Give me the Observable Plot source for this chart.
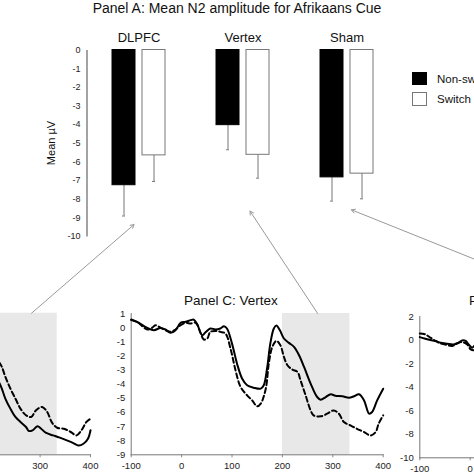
<!DOCTYPE html>
<html>
<head>
<meta charset="utf-8">
<script src="https://cdn.jsdelivr.net/npm/d3@7"></script>
<script src="https://cdn.jsdelivr.net/npm/@observablehq/plot@0.6"></script>
<style>
  html, body { margin: 0; padding: 0; background: #fff; }
  #fig { position: relative; width: 474px; height: 474px; overflow: hidden; background: #fff;
         font-family: 'Liberation Sans', Arial, Helvetica, sans-serif; color: #111; }
  #fig svg { overflow: visible; }
  .abs { position: absolute; white-space: nowrap; }
</style>
</head>
<body>
<div id="fig"></div>
<script>
// ---------- Panel A data ----------
const groups = ["DLPFC", "Vertex", "Sham"];
const conditions = ["Non-switch", "Switch"];
const nonSwitchMean = [-7.25, -4.03, -6.83];
const switchMean = [-5.65, -5.62, -6.63];
const nonSwitchSE = [1.65, 1.32, 1.27];
const switchSE = [1.40, 1.25, 1.35];
const yTicksA = [0, -1, -2, -3, -4, -5, -6, -7, -8, -9, -10];

// ---------- ERP waveforms (ms, µV) ----------
const analysisWindow = [{start: 200, end: 334}];
const xTicksERP = [-100, 0, 100, 200, 300, 400];
const yTicksBC = [1, 0, -1, -2, -3, -4, -5, -6, -7, -8, -9];
const yTicksD = [2, 0, -2, -4, -6, -8, -10];

const dlpfcNonSwitch = [[210,-3.4],[218,-3.85],[224,-4.32],[231,-5.03],[241,-5.74],[251,-6.33],[261,-6.68],[272,-7.04],[278,-7.32],[285,-7.27],[295,-6.99],[302,-7.16],[312,-7.46],[326,-7.63],[339,-7.79],[353,-7.98],[366,-8.17],[376,-8.34],[386,-8.22],[395,-7.87],[400,-7.27]];
const dlpfcSwitch = [[210,-2.0],[218,-2.43],[224,-2.78],[231,-3.49],[241,-4.32],[251,-5.03],[261,-5.74],[272,-6.21],[282,-6.33],[292,-5.86],[304,-5.62],[314,-5.97],[324,-6.75],[334,-7.09],[347,-7.16],[361,-7.39],[372,-7.63],[382,-7.27],[392,-6.68],[400,-6.45]];

const vertexNonSwitch = [[-100,0.53],[-88,0.4],[-72,0.05],[-55,-0.18],[-42,-0.02],[-32,-0.13],[-22,-0.37],[-12,-0.18],[-2,0.34],[8,0.41],[18,0.53],[24,0.57],[31,0.24],[41,-0.54],[47,-0.35],[57,-0.06],[67,-0.13],[77,-0.06],[84,0.1],[90,-0.06],[100,-1.13],[110,-2.55],[120,-3.6],[130,-4.08],[143,-4.25],[157,-4.32],[163,-4.08],[170,-2.78],[176,-1.13],[183,-0.06],[188,0.15],[195,-0.18],[203,-0.77],[213,-1.08],[223,-1.36],[233,-1.95],[243,-2.78],[256,-3.96],[269,-4.91],[276,-5.1],[286,-4.91],[296,-4.72],[305,-4.82],[319,-4.86],[332,-4.96],[342,-4.86],[352,-4.72],[362,-5.15],[372,-6.09],[378,-5.97],[388,-5.15],[400,-4.32]];
const vertexSwitch = [[-100,0.57],[-88,0.4],[-78,0.1],[-68,-0.13],[-58,0.0],[-52,0.17],[-42,0.0],[-32,-0.18],[-22,-0.3],[-12,-0.13],[-2,0.17],[8,0.34],[18,0.29],[28,0.34],[38,-0.42],[44,-0.84],[51,-0.77],[57,-0.3],[67,-0.23],[77,-0.3],[87,-0.42],[97,-1.48],[107,-3.02],[117,-4.2],[130,-4.79],[140,-5.15],[150,-5.57],[157,-5.38],[167,-4.32],[173,-2.55],[180,-1.36],[188,-0.94],[196,-1.25],[203,-2.07],[210,-2.66],[220,-2.97],[230,-3.14],[236,-3.73],[246,-4.79],[256,-5.86],[262,-6.21],[276,-6.28],[289,-6.09],[302,-5.86],[312,-6.09],[322,-6.68],[335,-6.92],[348,-7.16],[362,-7.39],[375,-7.63],[385,-7.39],[391,-6.8],[400,-6.21]];

const shamNonSwitch = [[-100,0.25],[-89,0.11],[-79,0.0],[-69,-0.08],[-59,-0.23],[-46,-0.31],[-33,-0.37],[-23,-0.23],[-16,-0.03],[-9,-0.08],[-3,-0.37],[4,-0.65],[8,-0.5],[14,-0.4]];
const shamSwitch = [[-100,0.56],[-89,0.48],[-79,0.2],[-69,-0.08],[-59,-0.28],[-46,-0.42],[-36,-0.5],[-26,-0.28],[-16,-0.17],[-6,-0.37],[1,-0.79],[8,-0.85],[14,-0.6]];

// arrows: from the analysis window of a lower panel to a group of Panel A
const arrowLinks = [
  {panel: "B", ms: 283, group: "DLPFC", value: -9.36, shift: -5},
  {panel: "C", ms: 270, group: "Vertex", value: -8.64, shift: 7},
  {panel: "D", ms: 292, group: "Sham", value: -8.57, shift: 4.5}
];

const fontFamily = "'Liberation Sans', Arial, Helvetica, sans-serif";
const fmt = d => String(d);
const fig = document.getElementById("fig");

function place(el, left, top) {
  el.style.position = "absolute";
  el.style.left = left + "px";
  el.style.top = top + "px";
  fig.append(el);
  return el;
}
function label(text, left, top, size, extra = "") {
  const d = document.createElement("div");
  d.className = "abs";
  d.textContent = text;
  d.style.cssText += `left:${left}px;top:${top}px;font-size:${size}px;line-height:${Math.round(size * 1.2)}px;` + extra;
  fig.append(d);
  return d;
}

// ---------- Panel A ----------
const barRows = groups.flatMap((g, i) => [
  {group: g, cond: conditions[0], mean: nonSwitchMean[i], se: nonSwitchSE[i]},
  {group: g, cond: conditions[1], mean: switchMean[i], se: switchSE[i]}
]);

const plotA = Plot.plot({
  width: 474, height: 250,
  marginTop: 49.5, marginBottom: 14, marginLeft: 87, marginRight: 76,
  style: {fontFamily, background: "transparent", color: "#222"},
  fx: {domain: groups, paddingInner: 1 / 104, paddingOuter: 0, axis: null},
  x: {domain: conditions, paddingInner: 7 / 30, paddingOuter: 0, insetLeft: 25, insetRight: 25, axis: null},
  y: {domain: [-10, 0], axis: null},
  color: {domain: conditions, range: ["#000", "#fff"]},
  marks: [
    Plot.axisY({ticks: yTicksA, tickFormat: fmt, tickSize: 0, tickPadding: 7, fontSize: 9, label: null}),
    Plot.axisFx({anchor: "top", tickSize: 0, tickPadding: 8, fontSize: 13, label: null, fill: "#111"}),
    Plot.ruleX(barRows, {fx: "group", x: "cond", y1: "mean", y2: d => d.mean - d.se, stroke: "#777", strokeWidth: 1}),
    Plot.tickY(barRows, {fx: "group", x: "cond", y: d => d.mean - d.se, stroke: "#777", insetLeft: 10, insetRight: 10}),
    Plot.barY(barRows, {fx: "group", x: "cond", y1: 0, y2: "mean", fill: "cond", stroke: d => d.cond === "Switch" ? "#777" : "#000", strokeWidth: 1})
  ]
});
place(plotA, 0, 0);

// ---------- ERP panels ----------
function erpPanel({solid, dashed, yDomain, yTicks, xTicks, left, top, margins}) {
  const marks = [
    Plot.rect(analysisWindow, {x1: "start", x2: "end", fill: "#e8e8e8"}),
    Plot.frame({anchor: "left", stroke: "#777"}),
    Plot.frame({anchor: "bottom", stroke: "#777"}),
    Plot.axisX({ticks: xTicks, tickFormat: fmt, tickSize: 3, tickPadding: 4, fontSize: 9.5, label: null, stroke: "#888"})
  ];
  if (yTicks) marks.push(Plot.axisY({ticks: yTicks, tickFormat: fmt, tickSize: 0, tickPadding: 6, fontSize: 9.5, label: null}));
  marks.push(
    Plot.line(dashed, {stroke: "#000", strokeWidth: 2, strokeDasharray: "5,3", curve: "catmull-rom"}),
    Plot.line(solid, {stroke: "#000", strokeWidth: 2, curve: "catmull-rom"})
  );
  const p = Plot.plot({
    width: 300, height: 184,
    ...margins,
    style: {fontFamily, background: "transparent", color: "#222"},
    x: {domain: [-100, 400], axis: null},
    y: {domain: yDomain, axis: null},
    marks
  });
  place(p, left, top);
  return {plot: p, left, top, yTop: yDomain[1]};
}

// Panel B and D are cropped by the figure edge: only their visible ticks are labelled
const panels = {
  B: erpPanel({solid: dlpfcNonSwitch, dashed: dlpfcSwitch, yDomain: [-9, 1], yTicks: null, xTicks: xTicksERP.slice(4),
               left: -200, top: 290, margins: {marginLeft: 38, marginRight: 10, marginTop: 22.7, marginBottom: 19.7}}),
  C: erpPanel({solid: vertexNonSwitch, dashed: vertexSwitch, yDomain: [-9, 1], yTicks: yTicksBC, xTicks: xTicksERP,
               left: 100, top: 290, margins: {marginLeft: 30.7, marginRight: 17.3, marginTop: 23, marginBottom: 19.7}}),
  D: erpPanel({solid: shamNonSwitch, dashed: shamSwitch, yDomain: [-10, 2], yTicks: yTicksD, xTicks: xTicksERP.slice(0, 2),
               left: 390, top: 290, margins: {marginLeft: 29.3, marginRight: 18.7, marginTop: 26, marginBottom: 16.7}})
};

// ---------- overlay: Panel A y-axis line and arrows (positions from the scales) ----------
const fxA = plotA.scale("fx"), yA = plotA.scale("y");
const axisLineA = [{x1: fxA.apply(groups[0]) - 0.5, x2: fxA.apply(groups[0]) - 0.5, y1: yA.apply(0), y2: yA.apply(-10)}];
const arrowPx = arrowLinks.map(a => {
  const p = panels[a.panel];
  return {
    x1: p.plot.scale("x").apply(a.ms) + p.left,
    y1: p.plot.scale("y").apply(p.yTop) + p.top,
    x2: fxA.apply(a.group) + fxA.bandwidth / 2 + a.shift,
    y2: yA.apply(a.value)
  };
});
const overlay = Plot.plot({
  width: 474, height: 474, margin: 0,
  style: {background: "transparent"},
  x: {type: "identity", axis: null},
  y: {type: "identity", axis: null},
  marks: [
    Plot.link(axisLineA, {x1: "x1", y1: "y1", x2: "x2", y2: "y2", stroke: "#666", strokeWidth: 1.2}),
    Plot.arrow(arrowPx, {x1: "x1", y1: "y1", x2: "x2", y2: "y2", stroke: "#999", strokeWidth: 1, headLength: 6, insetStart: 0, insetEnd: 0})
  ]
});
overlay.style.pointerEvents = "none";
place(overlay, 0, 0);

// ---------- titles, labels, legend ----------
label("Panel A: Mean N2 amplitude for Afrikaans Cue", 0, 0, 14, "width:474px;text-align:center;");
label("Panel C: Vertex", 184, 293, 13.5);
label("Panel D: Sham", 469, 293, 13.5);
label("Mean µV", 50.5, 143, 11, "transform:translate(-50%,-50%) rotate(-90deg);");

const sw1 = document.createElement("div");
sw1.style.cssText = "width:15px;height:13px;background:#000;box-sizing:border-box;";
place(sw1, 412, 72);
const sw2 = document.createElement("div");
sw2.style.cssText = "width:15px;height:14px;background:#fff;border:1px solid #777;box-sizing:border-box;";
place(sw2, 412, 92);
label("Non-switch", 437, 71.5, 11.5);
label("Switch", 437, 91.5, 11.5);
</script>
</body>
</html>
